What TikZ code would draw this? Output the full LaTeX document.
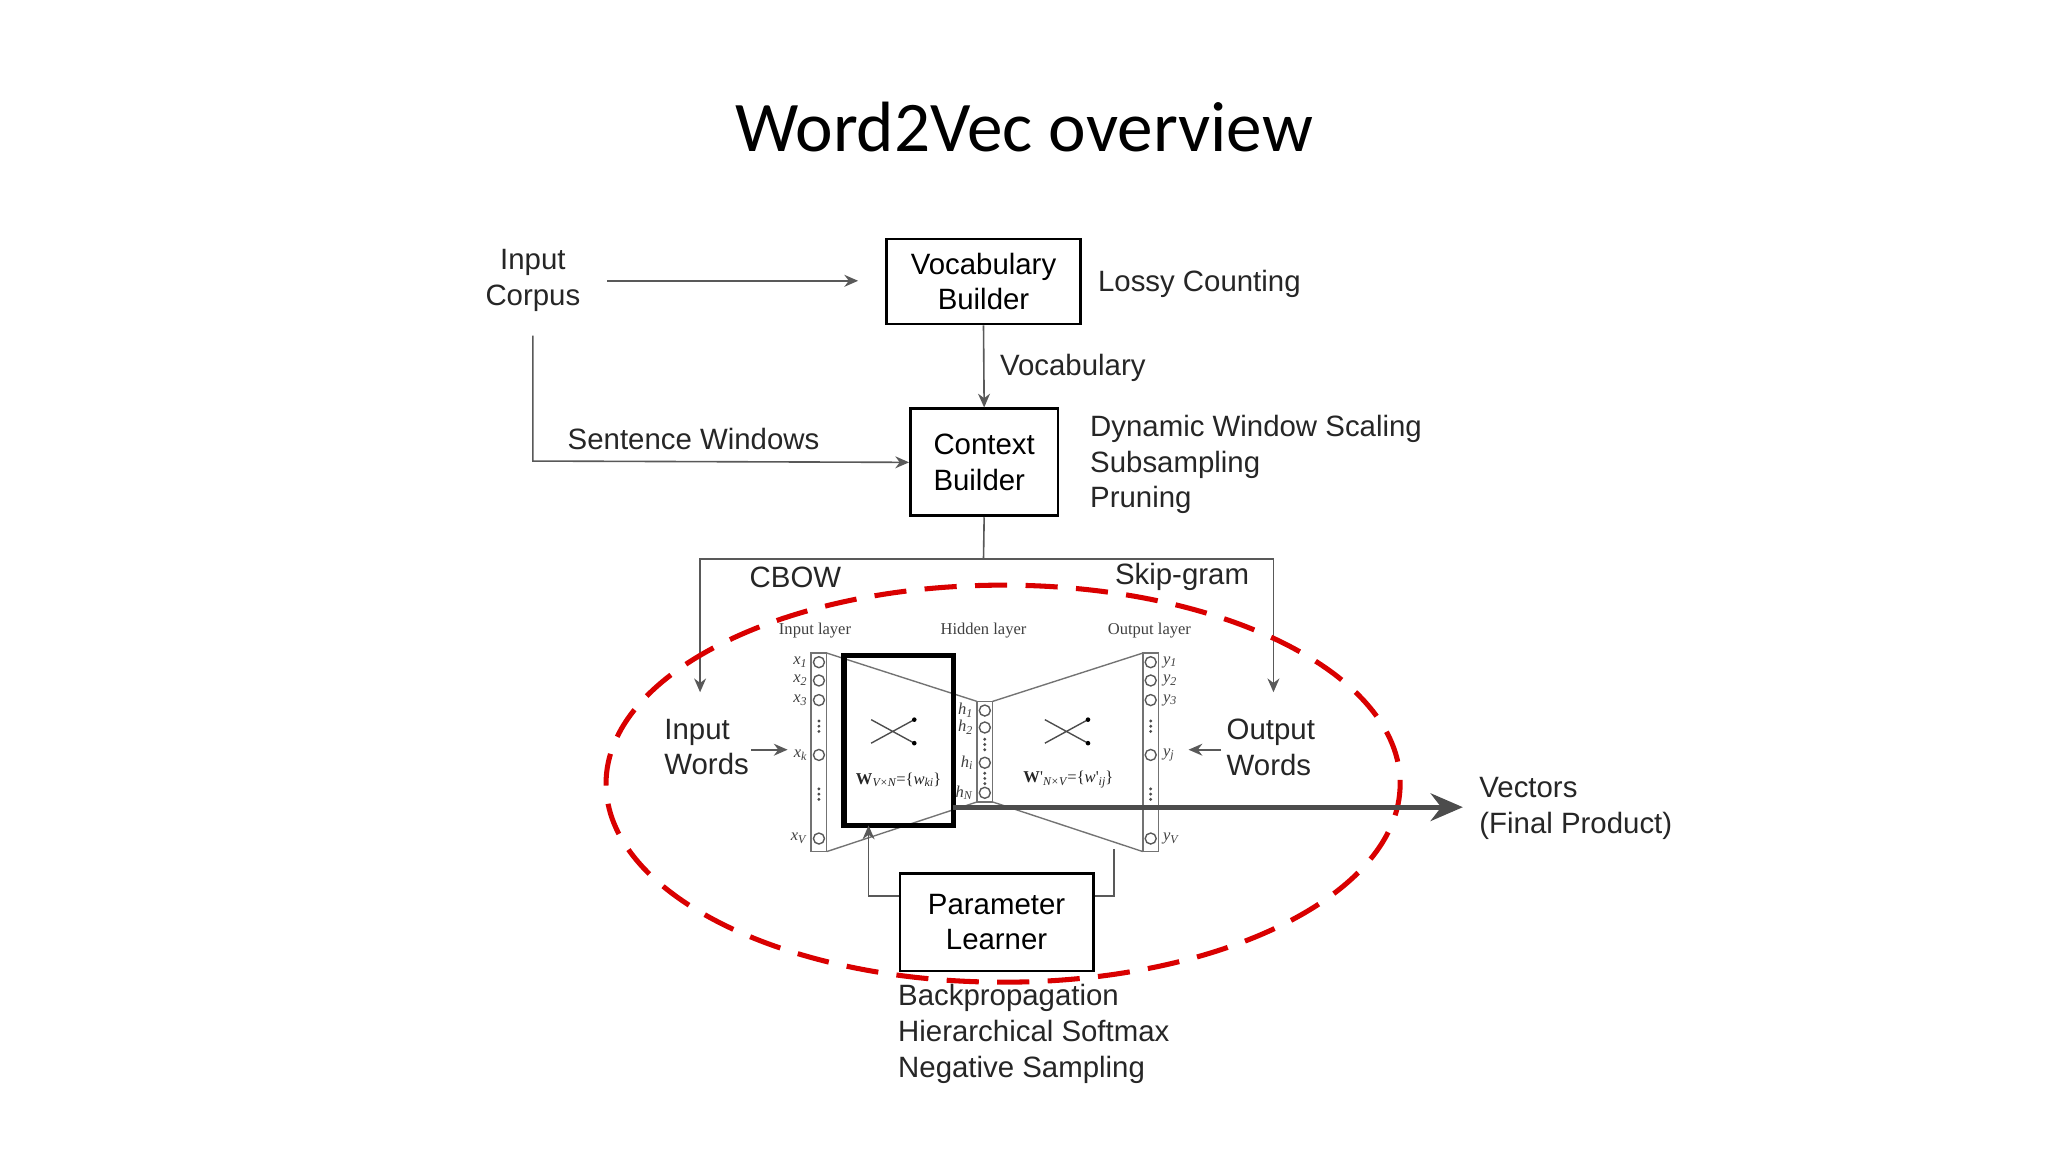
\documentclass[tikz,border=0pt]{standalone}
\usepackage{fontspec}
\setmainfont{Liberation Sans}
\newfontfamily\titlefont{Carlito}
\newfontfamily\serifsm{Liberation Serif}
\usetikzlibrary{arrows.meta}
\newcommand{\sbs}[1]{\raisebox{-0.35ex}{\fontsize{2.6}{3}\selectfont #1}}
\begin{document}
\begin{tikzpicture}[x=0.01cm,y=-0.01cm,
  lab/.style={font=\fontsize{6.4}{7.8}\selectfont, text=black!85},
  boxn/.style={draw, line width=0.6pt, align=center, font=\fontsize{6.4}{7.8}\selectfont, inner sep=0},
  con/.style={draw=black!65, line width=0.35pt},
  arr/.style={con, -{Stealth[length=3pt,width=2.6pt]}},
  small/.style={font=\serifsm\fontsize{3.6}{4}\selectfont, text=black!75},
  col/.style={draw=black!55, line width=0.3pt},
  neur/.style={draw=black!65, line width=0.3pt, circle, inner sep=0, minimum size=2.4pt}]
\useasboundingbox (0,0) rectangle (1568,882);
\fill[white] (0,0) rectangle (1568,882);
\node[font=\titlefont\fontsize{15.5}{18}\selectfont] (title) at (784,97) {Word2Vec overview};
% top
\node[lab, align=center] (corpus) at (408,215) {Input\\Corpus};
\node[boxn, minimum width=42.1pt, minimum height=18.5pt] (vb) at (753,215.5) {Vocabulary\\Builder};
\node[lab, anchor=west, inner sep=0] (lossy) at (840,217) {Lossy Counting};
\coordinate (ca) at (465,215);
\draw[arr] (ca) -- (657,215);
\node[boxn, minimum width=32.1pt, minimum height=23.3pt, align=left] (cb) at (753.5,354) {Context\\Builder};
\draw[arr] (vb.south) -- (cb.north);
\node[lab, anchor=west, inner sep=0] (vocab) at (765,282) {Vocabulary};
\draw[arr] (408,257) -- (408,353) -- (cb.west);
\node[lab] (sw) at (531,336) {Sentence Windows};
\node[lab, anchor=north west, align=left, inner sep=0] (dyn) at (834,317) {Dynamic Window Scaling\\Subsampling\\Pruning};
% branch
\coordinate (br) at (753,428);
\draw[con] (cb.south) -- (br);
\draw[arr] (br) -- (536,428) -- (536,530);
\draw[arr] (br) -- (975,428) -- (975,530);
\node[lab] (cbow) at (609,442) {CBOW};
\node[lab] (sg) at (905,442) {Skip-gram};
% ellipse
\draw[red!85!black, line width=1.1pt, dash pattern=on 7pt off 4pt] (768,600) ellipse [x radius=304, y radius=152];
% network
\node[small] (il) at (624,483) {Input layer};
\node[small] (hl) at (753,483) {Hidden layer};
\node[small] (ol) at (880,483) {Output layer};
\draw[col] (621,500) rectangle (633,652);
\draw[col] (748,537) rectangle (760,614);
\draw[col] (875,500) rectangle (887,652);
\draw[col] (633,500) -- (748,537) (633,652) -- (748,614) (760,537) -- (875,500) (760,614) -- (875,652);
\foreach \y/\v/\s in {507/x/1,521/x/2,536/x/3,578/x/k,642/x/V}{
  \node[neur] at (627,\y) {};
  \node[small, anchor=east, inner sep=0.5pt] at (620,\y) {\textit{\v}\sbs{\textit{\s}}};}
\foreach \y/\v/\s in {507/y/1,521/y/2,536/y/3,578/y/j,642/y/V}{
  \node[neur] at (881,\y) {};
  \node[small, anchor=west, inner sep=0.5pt] at (888,\y) {\textit{\v}\sbs{\textit{\s}}};}
\foreach \y/\v/\s in {544/h/1,557/h/2,584/h/i,607/h/N}{
  \node[neur] at (754,\y) {};
  \node[small, anchor=east, inner sep=0.5pt] at (747,\y) {\textit{\v}\sbs{\textit{\s}}};}
\foreach \x/\y in {627/556,627/608,881/556,881/608,754/570,754/596}{
  \foreach \d in {-4,0,4} \fill[black!70] (\x,\y+\d) circle (0.35pt);}
\draw[line width=1.2pt] (646,502) rectangle (730,632);
\foreach \cx in {685,818}{
  \draw[black!70, line width=0.3pt] (\cx-18,569) -- (\cx+15,551) (\cx-18,551) -- (\cx+15,569);
  \fill (\cx+15,551) circle (0.5pt) (\cx+15,569) circle (0.5pt);}
\node[small, text=black!85] (w1) at (688,597) {\textbf{W}\sbs{\textit{V×N}}=\{\textit{w}\sbs{\textit{ki}}\}};
\node[small, text=black!85] (w2) at (818,597) {\textbf{W}'\sbs{\textit{N×V}}=\{\textit{w}'\sbs{\textit{ij}}\}};
% input/output words
\node[lab, align=left] (iw) at (541,572) {Input\\Words};
\draw[arr] (575,574) -- (603,574);
\node[lab, align=left] (ow) at (973,572) {Output\\Words};
\draw[arr] (935,574) -- (910,574);
% vectors
\coordinate (vs) at (730,618);
\draw[black!70, line width=1.1pt, -{Stealth[length=7pt,width=6pt]}] (vs) -- (1120,618);
\node[lab, anchor=west, align=left, inner sep=0] (vec) at (1132,619) {Vectors\\(Final Product)};
% parameter learner
\node[boxn, minimum width=42.1pt, minimum height=21.3pt] (pl) at (763,706) {Parameter\\Learner};
\draw[arr] (pl.west |- 0,686) -- (665,686) -- (665,632);
\draw[con] (pl.east |- 0,686) -- (853,686) -- (853,650);
\node[lab, anchor=north west, align=left, inner sep=0] (bp) at (687,753) {Backpropagation\\Hierarchical Softmax\\Negative Sampling};
\end{tikzpicture}
\end{document}
